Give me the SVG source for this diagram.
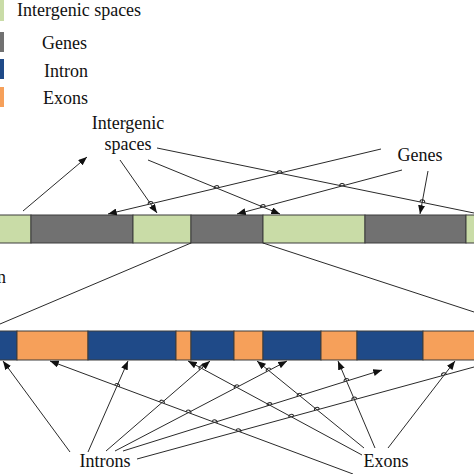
<svg xmlns="http://www.w3.org/2000/svg" width="474" height="474" viewBox="0 0 474 474">
<style>
text{font-family:"Liberation Serif","Times New Roman",serif;font-size:18px;fill:#111}
.seg{stroke:#3c3c3c;stroke-width:1}
.g{fill:#c9dca7}.d{fill:#717171}.b{fill:#1f4a88}.o{fill:#f6a05a}
.ln{stroke:#2a2a2a;stroke-width:1;fill:none}
.ar{marker-end:url(#ah)}
.hop{stroke:#2a2a2a;stroke-width:1;fill:none}
</style>
<defs>
<marker id="ah" viewBox="0 0 10 8" refX="10" refY="4" markerWidth="9" markerHeight="7" markerUnits="userSpaceOnUse" orient="auto">
<path d="M0,0 L10,4 L0,8 z" fill="#111"/>
</marker>
<path id="h" d="M-2.5,0 A2.5,2.5 0 0 1 2.5,0"/>
</defs>
<g id="legend">
<rect class="g" x="-1" y="0" width="5" height="21"/>
<rect class="d" x="-1" y="32" width="5" height="20"/>
<rect class="b" x="-1" y="59" width="5" height="20"/>
<rect class="o" x="-1" y="87" width="5" height="20"/>
<text x="17" y="16">Intergenic spaces</text>
<text x="42" y="49">Genes</text>
<text x="44" y="77">Intron</text>
<text x="43" y="104">Exons</text>
<text x="-3" y="283">n</text>
</g>
<g id="genome">
<rect class="seg g" x="-1" y="215" width="32" height="28"/>
<rect class="seg d" x="31" y="215" width="102" height="28"/>
<rect class="seg g" x="133" y="215" width="58" height="28"/>
<rect class="seg d" x="191" y="215" width="72" height="28"/>
<rect class="seg g" x="263" y="215" width="102" height="28"/>
<rect class="seg d" x="365" y="215" width="101" height="28"/>
<rect class="seg g" x="466" y="215" width="10" height="28"/>
</g>
<g id="gene">
<rect class="seg b" x="-1" y="331" width="18" height="29"/>
<rect class="seg o" x="17" y="331" width="71" height="29"/>
<rect class="seg b" x="88" y="331" width="88" height="29"/>
<rect class="seg o" x="176" y="331" width="15" height="29"/>
<rect class="seg b" x="191" y="331" width="43" height="29"/>
<rect class="seg o" x="234" y="331" width="29" height="29"/>
<rect class="seg b" x="263" y="331" width="58" height="29"/>
<rect class="seg o" x="321" y="331" width="36" height="29"/>
<rect class="seg b" x="357" y="331" width="66" height="29"/>
<rect class="seg o" x="423" y="331" width="53" height="29"/>
</g>
<g id="labels">
<text x="128" y="129" text-anchor="middle">Intergenic</text>
<text x="128" y="150" text-anchor="middle">spaces</text>
<text x="420" y="161" text-anchor="middle">Genes</text>
<text x="105" y="467" text-anchor="middle">Introns</text>
<text x="386" y="467" text-anchor="middle">Exons</text>
</g>
<g id="connectors">
<path class="ln" d="M191,243 L0,324"/>
<path class="ln" d="M263,243 L474,312"/>
<path class="ln ar" d="M23,211 L87,157"/>
<path class="ln ar" d="M120,160 L157,213"/>
<path class="ln" d="M157,148 L474,213"/>
<path class="ln ar" d="M148,160 L280,214"/>
<path class="ln ar" d="M381,149 L108,214"/>
<path class="ln ar" d="M402,170 L237,214"/>
<path class="ln ar" d="M428,171 L420,214"/>
<path class="ln ar" d="M70,452 L3,361"/>
<path class="ln ar" d="M88,452 L128,361"/>
<path class="ln ar" d="M106,451 L210,361"/>
<path class="ln ar" d="M115,451 L287,361"/>
<path class="ln ar" d="M123,451 L382,370"/>
<path class="ln" d="M137,459 L474,367"/>
<path class="ln ar" d="M353,474 L50,361"/>
<path class="ln ar" d="M362,455 L188,361"/>
<path class="ln ar" d="M364,448 L257,361"/>
<path class="ln ar" d="M375,448 L338,361"/>
<path class="ln ar" d="M388,448 L455,361"/>
<g class="hop">
<use href="#h" transform="translate(150.7,204) rotate(-13.4)"/>
<use href="#h" transform="translate(216.7,188.1) rotate(-13.4)"/>
<use href="#h" transform="translate(279.7,173.2) rotate(-13.4)"/>
<use href="#h" transform="translate(263,207.1) rotate(-14.9)"/>
<use href="#h" transform="translate(342.2,186) rotate(-14.9)"/>
<use href="#h" transform="translate(422.2,202.3) rotate(11.6)"/>
<use href="#h" transform="translate(117,386) rotate(20.5)"/>
<use href="#h" transform="translate(161.8,402.7) rotate(20.5)"/>
<use href="#h" transform="translate(188.4,412.6) rotate(20.5)"/>
<use href="#h" transform="translate(214.6,422.4) rotate(20.5)"/>
<use href="#h" transform="translate(238.4,431.3) rotate(20.5)"/>
<use href="#h" transform="translate(201.6,368.3) rotate(-40.9)"/>
<use href="#h" transform="translate(236.8,387.4) rotate(-27.6)"/>
<use href="#h" transform="translate(268.8,370.6) rotate(-27.6)"/>
<use href="#h" transform="translate(269.7,405.2) rotate(-17.4)"/>
<use href="#h" transform="translate(299.7,395.8) rotate(-17.4)"/>
<use href="#h" transform="translate(346.6,381.1) rotate(-17.4)"/>
<use href="#h" transform="translate(291.4,416.8) rotate(-15.3)"/>
<use href="#h" transform="translate(317,409.9) rotate(-15.3)"/>
<use href="#h" transform="translate(354.4,399.6) rotate(-15.3)"/>
<use href="#h" transform="translate(444.1,375.2) rotate(-15.3)"/>
</g>
</g>
</svg>
